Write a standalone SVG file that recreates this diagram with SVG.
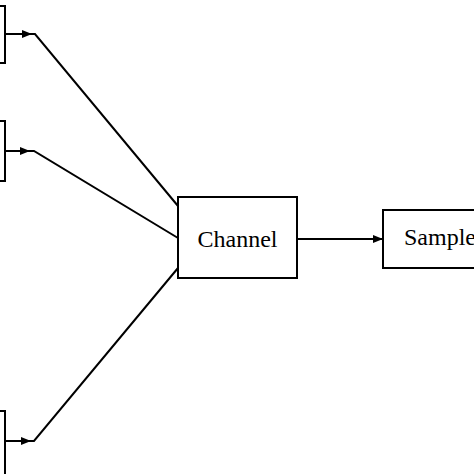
<svg xmlns="http://www.w3.org/2000/svg" width="474" height="474" viewBox="0 0 474 474">
<defs>
<marker id="arr" viewBox="0 0 10 8" refX="10" refY="4" markerWidth="10" markerHeight="8" markerUnits="userSpaceOnUse" orient="auto">
<path d="M0,0 L10,4 L0,8 z" fill="#000"/>
</marker>
<style>
.box{fill:#fff;stroke:#000;stroke-width:2}
.ln{fill:none;stroke:#000;stroke-width:2}
.lbl{font-family:"Liberation Serif","DejaVu Serif",serif;font-size:24px;fill:#000}
</style>
</defs>
<rect width="474" height="474" fill="#fff"/>
<g id="src1"><rect class="box" x="-20" y="6" width="25" height="57"/></g>
<g id="src2"><rect class="box" x="-20" y="121" width="25" height="60"/></g>
<g id="src3"><rect class="box" x="-20" y="411" width="25" height="80"/></g>
<g id="channel"><rect class="box" x="178" y="197" width="119" height="81"/><text class="lbl" x="237.5" y="247" text-anchor="middle">Channel</text></g>
<g id="sampler"><rect class="box" x="383" y="210" width="110" height="58"/><text class="lbl" x="404" y="245">Sample</text></g>
<g id="connectors">
<line class="ln" x1="5" y1="34" x2="32" y2="34" marker-end="url(#arr)"/>
<polyline class="ln" points="32,34 35,34 178,206"/>
<line class="ln" x1="5" y1="151" x2="30" y2="151" marker-end="url(#arr)"/>
<polyline class="ln" points="30,151 34,151 178,238"/>
<line class="ln" x1="5" y1="441" x2="31" y2="441" marker-end="url(#arr)"/>
<polyline class="ln" points="31,441 34,441 178,268"/>
<line class="ln" x1="297" y1="239" x2="383" y2="239" marker-end="url(#arr)"/>
</g>
</svg>
